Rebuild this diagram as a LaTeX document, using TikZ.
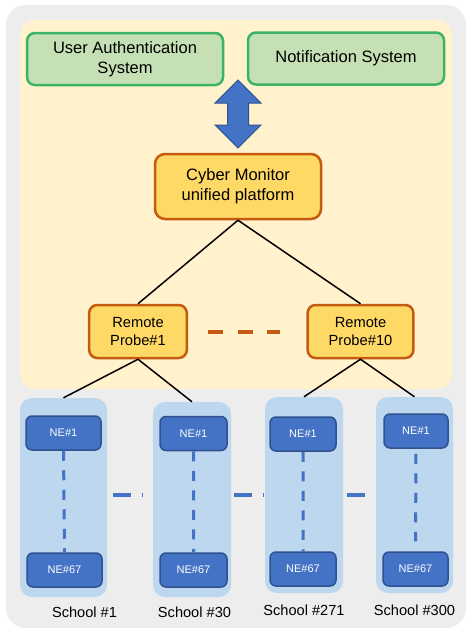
\documentclass[tikz,border=0pt]{standalone}
\usepackage{fontspec}
\setmainfont{Liberation Sans}
\usetikzlibrary{positioning,shapes.arrows}

\definecolor{backgrey}{HTML}{EDEDED}
\definecolor{paneyellow}{HTML}{FFF2CC}
\definecolor{sysgreen}{HTML}{C5E0B4}
\definecolor{sysgreenline}{HTML}{3BB463}
\definecolor{probeyellow}{HTML}{FFD966}
\definecolor{probeorange}{HTML}{C55A11}
\definecolor{schoolblue}{HTML}{BDD7EE}
\definecolor{neblue}{HTML}{4472C4}
\definecolor{nebluedark}{HTML}{2F528F}

\begin{document}
\begin{tikzpicture}[on grid,
	sysbox/.style={draw=sysgreenline, fill=sysgreen, line width=2.5pt,
		rounded corners=8pt, minimum width=196pt, minimum height=52pt,
		align=center, font=\fontsize{16.5pt}{20pt}\selectfont},
	platform/.style={draw=probeorange, fill=probeyellow, line width=2.5pt,
		rounded corners=10pt, minimum width=166pt, minimum height=65pt,
		align=center, font=\fontsize{16.5pt}{20pt}\selectfont},
	probe/.style={draw=probeorange, fill=probeyellow, line width=2.5pt,
		rounded corners=8pt, inner xsep=21pt, minimum height=53pt,
		align=center, font=\fontsize{14.7pt}{17.3pt}\selectfont},
	school/.style={fill=schoolblue, rounded corners=12pt},
	ne/.style={draw=nebluedark, fill=neblue, line width=1.5pt,
		rounded corners=6pt, minimum height=34pt, text=white,
		font=\fontsize{11pt}{13pt}\selectfont},
	schoollabel/.style={font=\fontsize{14.6pt}{17pt}\selectfont},
	wire/.style={line width=1.5pt},
	probedash/.style={draw=probeorange, line width=4pt, dash pattern=on 15pt off 14.5pt},
	nedash/.style={draw=neblue, line width=3pt, dash pattern=on 10pt off 9.5pt},
	gapdash/.style={draw=neblue, line width=3.5pt, dash pattern=on 18pt off 11pt}
]

\useasboundingbox (0,0) rectangle (474pt,-635pt);

% Panels
\fill[backgrey, rounded corners=20pt] (6pt,-5pt) rectangle (466pt,-628pt);
\fill[paneyellow, rounded corners=15pt] (20pt,-20pt) rectangle (452pt,-389pt);

% Central platform
\node[platform] (cyber) at (238pt,-186.5pt) {Cyber Monitor\\unified platform};

\node[double arrow,
	shape border rotate=90,
	fill=neblue,
	draw=nebluedark,
	line width=1pt,
	inner sep=10pt,
	minimum height=68pt,
	double arrow head extend=12.5pt,
	above=72.5pt of cyber] (link) {};

%%%%%%%%%%%%%%%%%%%
% Upper systems

\node[sysbox, above left= 127.5pt and 113pt of cyber] (auth) {User Authentication\\System};
\node[sysbox, above right= 128pt and 108pt of cyber] (notify) {Notification System};

%%%%%%%%%%%%%%%%%%%
% Remote probes

\node[probe, below left= 145pt and 100pt of cyber] (probeA) {Remote\\Probe\#1};
\node[probe, below right= 145pt and 122.5pt of cyber] (probeB) {Remote\\Probe\#10};

\draw[wire]
    (cyber.south) -- (probeA.north)
    (cyber.south) -- (probeB.north);

\draw[probedash, shorten <=20pt, shorten >=26pt] (probeA.east) -- (probeB.west);

%%%%%%%%%%%%%%%%%%%
% Schools

\node[school, minimum width=87pt, minimum height=199pt,
	below left= 166pt and 74.5pt of probeA] (schoolA) {};
\node[school, minimum width=78pt, minimum height=195pt,
	below right= 168pt and 54pt of probeA] (schoolB) {};
\node[school, minimum width=78pt, minimum height=196pt,
	below left= 163.5pt and 56.5pt of probeB] (schoolC) {};
\node[school, minimum width=77pt, minimum height=196pt,
	below right= 163.5pt and 54pt of probeB] (schoolD) {};

\draw[wire]
    (probeA.south) -- (schoolA.north)
    (probeA.south) -- (schoolB.north)
    (probeB.south) -- (schoolC.north)
    (probeB.south) -- (schoolD.north);

% dashes between schools, all at one height
\draw[gapdash, shorten <=6pt, shorten >=10pt] (schoolA.east |- schoolC.west) -- (schoolB.west |- schoolC.west);
\draw[gapdash, shorten <=3pt, shorten >=0.5pt] (schoolB.east |- schoolC.west) -- (schoolC.west);
\draw[gapdash, shorten <=4pt, shorten >=0.5pt] (schoolC.east) -- (schoolD.west);

% Network elements
\node[ne, minimum width=75pt, above=64.5pt of schoolA] (neA1) {NE\#1};
\node[ne, minimum width=75pt, below right=72.5pt and 1pt of schoolA] (neA67) {NE\#67};
\node[ne, minimum width=67pt, above right=66pt and 1.5pt of schoolB] (neB1) {NE\#1};
\node[ne, minimum width=67pt, below right=70.5pt and 1.5pt of schoolB] (neB67) {NE\#67};
\node[ne, minimum width=66pt, above left=61pt and 1pt of schoolC] (neC1) {NE\#1};
\node[ne, minimum width=66pt, below left=74pt and 1pt of schoolC] (neC67) {NE\#67};
\node[ne, minimum width=64pt, above right=64pt and 1.5pt of schoolD] (neD1) {NE\#1};
\node[ne, minimum width=65pt, below right=74pt and 1pt of schoolD] (neD67) {NE\#67};

\draw[nedash, shorten <=5pt, shorten >=10pt]
    (neA1.south) -- (neA67.north)
    (neB1.south) -- (neB67.north)
    (neC1.south) -- (neC67.north)
    (neD1.south) -- (neD67.north);

% School labels
\node[schoollabel, below right= 114.5pt and 21pt of schoolA] (labA) {School \#1};
\node[schoollabel, below right= 112.5pt and 2.5pt of schoolB] (labB) {School \#30};
\node[schoollabel, below= 115pt of schoolC] (labC) {School \#271};
\node[schoollabel, below= 115pt of schoolD] (labD) {School \#300};

\end{tikzpicture}
\end{document}
